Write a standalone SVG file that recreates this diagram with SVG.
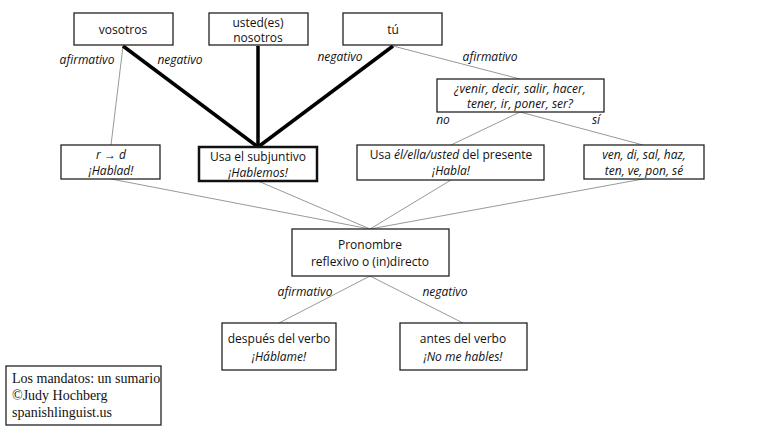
<svg xmlns="http://www.w3.org/2000/svg" width="768" height="432" viewBox="0 0 768 432">
<style>
.b{fill:#fff;stroke:#222;stroke-width:1.3}
.bb{fill:#fff;stroke:#111;stroke-width:2.5}
text{font-family:"Open Sans","Liberation Sans",sans-serif;font-size:12px;fill:#111;text-anchor:middle}
.i{font-style:italic}
.thin{stroke:#999;stroke-width:1;fill:none}
.thick{stroke:#000;stroke-width:3.5;fill:none}
.s{font-family:"Liberation Serif",serif;font-size:14px;text-anchor:start}
</style>
<rect width="768" height="432" fill="#fff"/>
<g id="connectors">
<line class="thin" x1="123" y1="46" x2="111" y2="145"/>
<line class="thin" x1="393" y1="46" x2="520" y2="79"/>
<line class="thin" x1="520" y1="112" x2="451" y2="145"/>
<line class="thin" x1="520" y1="112" x2="643" y2="145"/>
<line class="thin" x1="111" y1="179" x2="370" y2="229"/>
<line class="thin" x1="258" y1="181" x2="370" y2="229"/>
<line class="thin" x1="451" y1="180" x2="370" y2="229"/>
<line class="thin" x1="643" y1="179" x2="370" y2="229"/>
<line class="thin" x1="370" y1="276" x2="279" y2="323"/>
<line class="thin" x1="370" y1="276" x2="463" y2="323"/>
<line class="thick" x1="123" y1="46" x2="258" y2="147"/>
<line class="thick" x1="258" y1="46" x2="258" y2="147"/>
<line class="thick" x1="393" y1="46" x2="258" y2="147"/>
<text class="i" x="87" y="64">afirmativo</text>
<text class="i" x="180" y="64">negativo</text>
<text class="i" x="340" y="61">negativo</text>
<text class="i" x="490" y="61">afirmativo</text>
<text class="i" x="443" y="124">no</text>
<text class="i" x="596" y="124">sí</text>
<text class="i" x="305" y="296">afirmativo</text>
<text class="i" x="445" y="296">negativo</text>
</g>
<g id="vosotros"><rect class="b" x="74" y="13" width="99" height="32"/><text x="123" y="34">vosotros</text></g>
<g id="usted"><rect class="b" x="209" y="13" width="99" height="32"/><text x="258" y="27">usted(es)</text><text x="258" y="42">nosotros</text></g>
<g id="tu"><rect class="b" x="343" y="13" width="99" height="32"/><text x="393" y="34">tú</text></g>
<g id="pregunta"><rect class="b" x="437" y="79" width="167" height="33"/><text class="i" x="520" y="93">¿venir, decir, salir, hacer,</text><text class="i" x="520" y="108">tener, ir, poner, ser?</text></g>
<g id="rd"><rect class="b" x="61" y="145" width="99" height="34"/><text class="i" x="111" y="159">r → d</text><text class="i" x="111" y="175">¡Hablad!</text></g>
<g id="subj"><rect class="bb" x="199" y="147" width="118" height="34"/><text x="258" y="161">Usa el subjuntivo</text><text class="i" x="258" y="177">¡Hablemos!</text></g>
<g id="usa"><rect class="b" x="357" y="145" width="187" height="35"/><text x="451" y="159">Usa <tspan class="i">él/ella/usted</tspan> del presente</text><text class="i" x="451" y="175">¡Habla!</text></g>
<g id="ven"><rect class="b" x="584" y="145" width="120" height="34"/><text class="i" x="644" y="159">ven, di, sal, haz,</text><text class="i" x="644" y="175">ten, ve, pon, sé</text></g>
<g id="pronombre"><rect class="b" x="292" y="229" width="157" height="47"/><text x="370" y="249">Pronombre</text><text x="370" y="266">reflexivo o (in)directo</text></g>
<g id="despues"><rect class="b" x="222" y="323" width="114" height="47"/><text x="279" y="343">después del verbo</text><text class="i" x="279" y="361">¡Háblame!</text></g>
<g id="antes"><rect class="b" x="400" y="323" width="127" height="47"/><text x="463" y="343">antes del verbo</text><text class="i" x="463" y="361">¡No me hables!</text></g>
<g id="credit"><rect class="b" x="6" y="366" width="155" height="59"/><text class="s" x="12" y="383">Los mandatos: un sumario</text><text class="s" x="12" y="400">©Judy Hochberg</text><text class="s" x="12" y="417">spanishlinguist.us</text></g>
</svg>
